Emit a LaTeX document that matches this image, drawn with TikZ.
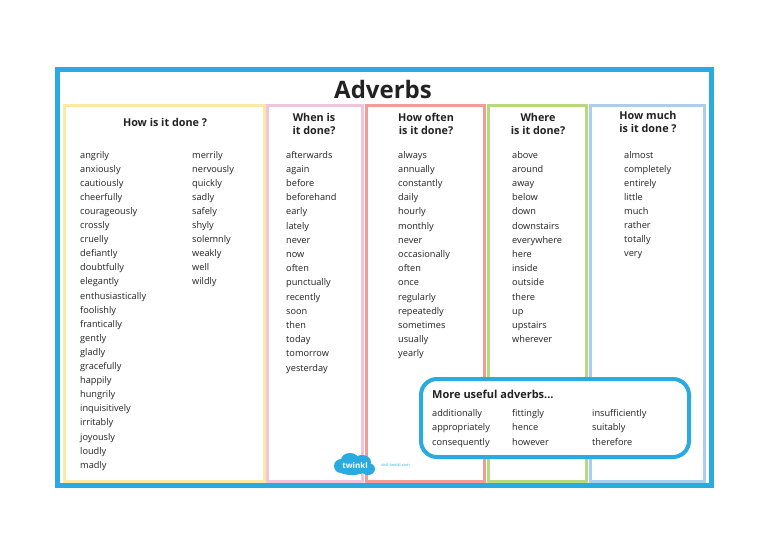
\documentclass[tikz,border=0pt]{standalone}
\usepackage{fontspec}
\setmainfont{Open Sans}
\definecolor{tblue}{HTML}{29ABE2}
\definecolor{cyel}{HTML}{FBE9A6}
\definecolor{cpink}{HTML}{F0C4DA}
\definecolor{cred}{HTML}{F29C95}
\definecolor{cgreen}{HTML}{B8D87C}
\definecolor{clblue}{HTML}{AACFEE}
\definecolor{txt}{HTML}{222222}
\begin{document}
\begin{tikzpicture}[x=1pt,y=-1pt,
  word/.style={anchor=base west,font=\fontsize{9.2}{10}\selectfont,text=txt,inner sep=0pt},
  head/.style={align=center,font=\bfseries\fontsize{10.8}{13}\selectfont,text=txt,inner sep=0pt},
  col/.style={draw=#1,line width=3pt}]
\useasboundingbox (0,0) rectangle (768,543);
\draw[tblue,line width=5.5pt,fill=white] (57.5,69.5) rectangle (711.5,485.5) ;
\node[font=\bfseries\fontsize{24}{26}\selectfont,text=txt] (title) at (383,90) {Adverbs};
\draw[col=cyel] (64.5,105.5) rectangle (264,481);
\draw[col=cpink] (267.5,105.5) rectangle (362,481);
\draw[col=cred] (366,105.5) rectangle (484.5,481);
\draw[col=cgreen] (488,105.5) rectangle (586.5,481);
\draw[col=clblue] (590,105.5) rectangle (704.5,481);
\node[head] (h1) at (165,122) {How is it done ?};
\node[head] (h2) at (314,124) {When is\\it done?};
\node[head] (h3) at (426,124) {How often\\is it done?};
\node[head] (h4) at (538,124) {Where\\is it done?};
\node[head] (h5) at (648,122) {How much\\is it done ?};
\foreach \w [count=\i] in {angrily,anxiously,cautiously,cheerfully,courageously,crossly,cruelly,defiantly,doubtfully,elegantly,enthusiastically,foolishly,frantically,gently,gladly,gracefully,happily,hungrily,inquisitively,irritably,joyously,loudly,madly}
  \node[word] (a\i) at (80,{158+(\i-1)*14.1}) {\w};
\foreach \w [count=\i] in {merrily,nervously,quickly,sadly,safely,shyly,solemnly,weakly,well,wildly}
  \node[word] (b\i) at (192,{158+(\i-1)*14.1}) {\w};
\foreach \w [count=\i] in {afterwards,again,before,beforehand,early,lately,never,now,often,punctually,recently,soon,then,today,tomorrow,yesterday}
  \node[word] (c\i) at (286,{158+(\i-1)*14.2}) {\w};
\foreach \w [count=\i] in {always,annually,constantly,daily,hourly,monthly,never,occasionally,often,once,regularly,repeatedly,sometimes,usually,yearly}
  \node[word] (d\i) at (398,{158+(\i-1)*14.2}) {\w};
\foreach \w [count=\i] in {above,around,away,below,down,downstairs,everywhere,here,inside,outside,there,up,upstairs,wherever}
  \node[word] (e\i) at (512,{158+(\i-1)*14.2}) {\w};
\foreach \w [count=\i] in {almost,completely,entirely,little,much,rather,totally,very}
  \node[word] (f\i) at (624,{158+(\i-1)*14.1}) {\w};
\draw[tblue,line width=4pt,fill=white,rounded corners=16pt] (421,379) rectangle (689,457);
\node[word,font=\bfseries\fontsize{11}{12}\selectfont] (more) at (432,398) {More useful adverbs...};
\foreach \w [count=\i] in {additionally,appropriately,consequently}
  \node[word] (g\i) at (432,{416+(\i-1)*14.5}) {\w};
\foreach \w [count=\i] in {fittingly,hence,however}
  \node[word] (h\i) at (512,{416+(\i-1)*14.5}) {\w};
\foreach \w [count=\i] in {insufficiently,suitably,therefore}
  \node[word] (k\i) at (592,{416+(\i-1)*14.5}) {\w};
\fill[tblue] (341,466) ellipse (7 and 7) (350,460) ellipse (9 and 7) (362,462) ellipse (9 and 7) (368,469) ellipse (7 and 6) (352,470) ellipse (14 and 5);
\node[font=\bfseries\fontsize{8}{9}\selectfont,text=white,inner sep=0pt] (logo) at (355,465) {twinkl};
\node[anchor=west,font=\fontsize{4}{5}\selectfont,text=tblue,inner sep=0pt] (visit) at (381,465) {visit twinkl.com};
\end{tikzpicture}
\end{document}
